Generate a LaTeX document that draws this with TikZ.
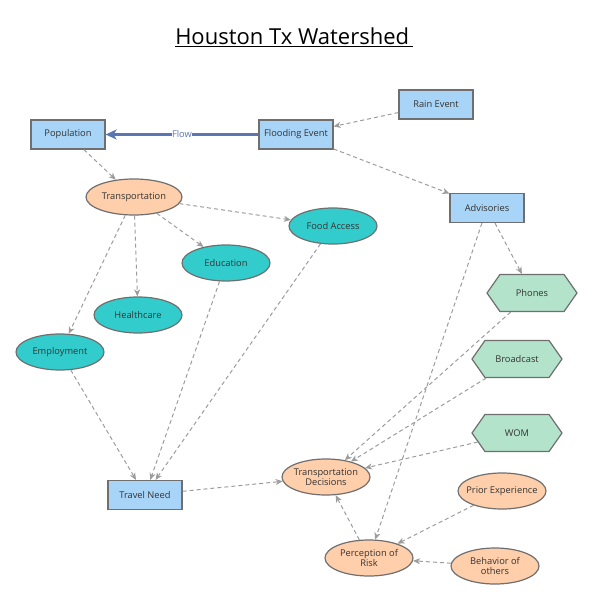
\documentclass[tikz,border=0pt]{standalone}
\usepackage{fontspec}
\setmainfont{Open Sans}
\usetikzlibrary{shapes.geometric,shapes.symbols,arrows.meta}
\definecolor{boxfill}{HTML}{A8D4F7}
\definecolor{bordergray}{HTML}{6F6F6F}
\definecolor{orangefill}{HTML}{FFCEAA}
\definecolor{tealfill}{HTML}{33CCCC}
\definecolor{mintfill}{HTML}{B3E3CB}
\definecolor{edgegray}{HTML}{9C9C9C}
\definecolor{flowblue}{HTML}{5B77B3}
\definecolor{txt}{HTML}{333333}
\tikzset{
  base/.style={draw=bordergray, line width=1.2pt, text=txt, font=\fontsize{9.3}{10.5}\selectfont, align=center, inner sep=1pt},
  boxnode/.style={base, rectangle, fill=boxfill, minimum width=74pt, minimum height=29pt},
  oval/.style={base, ellipse, minimum width=88pt, minimum height=36pt},
  tight/.style={inner xsep=-5pt, inner ysep=-2pt},
  orangeoval/.style={oval, fill=orangefill},
  tealoval/.style={oval, fill=tealfill},
  hexnode/.style={base, signal, signal to=east and west, signal pointer angle=110, fill=mintfill, minimum width=90pt, minimum height=37pt},
  link/.style={draw=edgegray, line width=1pt, dash pattern=on 4pt off 3pt, -{Stealth[length=7pt,width=6pt,inset=2pt]}},
  flow/.style={draw=flowblue, line width=2.2pt, -{Stealth[length=11pt,width=10pt,inset=3pt]}},
}
\begin{document}
\begin{tikzpicture}[x=1pt,y=-1pt]
\useasboundingbox (0,0) rectangle (592,600);
% title
\node[text=black, font=\fontsize{22}{26}\selectfont, inner sep=0pt] (title) at (294,37) {\underline{Houston Tx Watershed\,}};
% boxes
\node[boxnode] (pop) at (68,134.5) {Population};
\node[boxnode] (flood) at (296,134.5) {Flooding Event};
\node[boxnode] (rain) at (436,104.5) {Rain Event};
\node[boxnode] (adv) at (487,208) {Advisories};
\node[boxnode] (travel) at (145,495) {Travel Need};
% ovals
\node[orangeoval, minimum width=96pt, tight] (trans) at (134,197) {Transportation};
\node[tealoval] (food) at (333,226) {Food Access};
\node[tealoval] (edu) at (226,263) {Education};
\node[tealoval] (health) at (138,315) {Healthcare};
\node[tealoval] (emp) at (60,352) {Employment};
\node[orangeoval, tight] (td) at (326,477) {Transportation\\Decisions};
\node[orangeoval, tight] (risk) at (369,558) {Perception of\\Risk};
\node[orangeoval, tight] (prior) at (502,491) {Prior Experience};
\node[orangeoval, tight] (behav) at (495,566) {Behavior of\\others};
% hexagons
\node[hexnode] (phones) at (532,293) {Phones};
\node[hexnode] (broad) at (517,359) {Broadcast};
\node[hexnode] (wom) at (517,433) {WOM};
% flow
\draw[flow] (flood) -- node[fill=white, inner sep=0.5pt, text=flowblue, font=\fontsize{9.3}{10.5}\selectfont] (flowlbl) {Flow} (pop);
% links
\draw[link] (rain) -- (flood);
\draw[link] (flood) -- (adv);
\draw[link] (pop) -- (trans);
\draw[link] (trans) -- (food);
\draw[link] (trans) -- (edu);
\draw[link] (trans) -- (health);
\draw[link] (trans) -- (emp);
\draw[link] (emp) -- (travel);
\draw[link] (edu) -- (travel);
\draw[link] (food) -- (travel);
\draw[link] (travel) -- (td);
\draw[link] (adv) -- (phones);
\draw[link] (adv) -- (risk);
\draw[link] (phones) -- (td);
\draw[link] (broad) -- (td);
\draw[link] (wom) -- (td);
\draw[link] (risk) -- (td);
\draw[link] (prior) -- (risk);
\draw[link] (behav) -- (risk);
\end{tikzpicture}
\end{document}
